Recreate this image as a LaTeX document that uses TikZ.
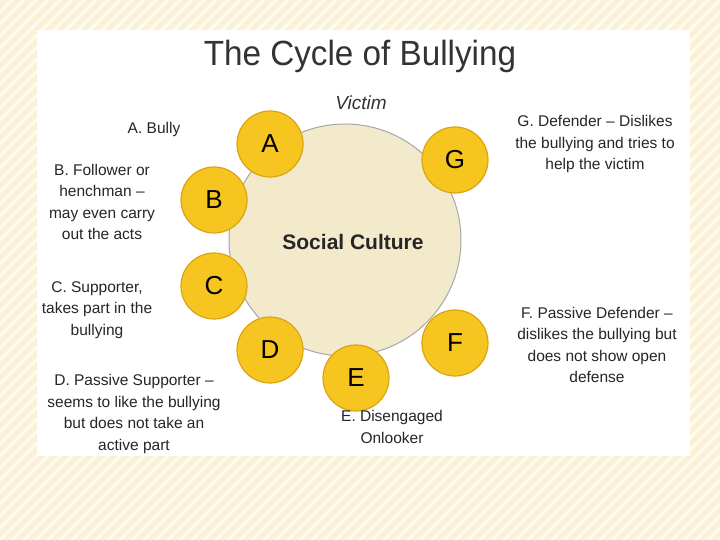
\documentclass[tikz,border=0pt]{standalone}
\usepackage{fontspec}
\setmainfont{Liberation Sans}
\definecolor{bg}{HTML}{FBF1D6}
\definecolor{big}{HTML}{F3EACB}
\definecolor{yel}{HTML}{F7C520}
\definecolor{yeld}{HTML}{D9A514}
\begin{document}
\begin{tikzpicture}[x=1pt,y=-1pt,
  role/.style={circle,draw=yeld,line width=1.2pt,fill=yel,minimum size=66pt,inner sep=0pt,font=\fontsize{26}{26}\selectfont},
  lab/.style={align=center,font=\fontsize{15.5}{21.5}\selectfont,text=black!85}]
\useasboundingbox (0,0) rectangle (720,540);
\fill[bg] (0,0) rectangle (720,540);
\begin{scope}
\clip (0,0) rectangle (720,540);
\foreach \i in {0,12,...,1260}{\draw[white!70!bg,line width=3pt] (\i,0) -- (\i-540,540);}
\end{scope}
\fill[white] (37,30) rectangle (690,456);
\node[font=\fontsize{35}{35}\selectfont,text=black!80,xscale=0.95] (t) at (360,56) {The Cycle of Bullying};
\node[circle,draw=gray!70,line width=1pt,fill=big,minimum size=232pt] (c) at (345,240) {};
\node[font=\bfseries\fontsize{21}{21}\selectfont,text=black!85] at (353,242) {Social Culture};
\node[font=\itshape\fontsize{19}{19}\selectfont,text=black!80] (v) at (361,103) {Victim};
\node[role] (A) at (270,144) {A};
\node[role] (G) at (455,160) {G};
\node[role] (B) at (214,200) {B};
\node[role] (C) at (214,286) {C};
\node[role] (D) at (270,350) {D};
\node[role] (E) at (356,378) {E};
\node[role] (F) at (455,343) {F};
\node[lab] (la) at (154,129) {A. Bully};
\node[lab] (lb) at (102,202) {B. Follower or\\henchman –\\may even carry\\out the acts};
\node[lab] (lc) at (97,310) {C. Supporter,\\takes part in the\\bullying};
\node[lab] (ld) at (134,414) {D. Passive Supporter –\\seems to like the bullying\\but does not take an\\active part};
\node[lab] (le) at (392,427) {E. Disengaged\\Onlooker};
\node[lab] (lf) at (597,345) {F. Passive Defender –\\dislikes the bullying but\\does not show open\\defense};
\node[lab] (lg) at (595,144) {G. Defender – Dislikes\\the bullying and tries to\\help the victim};
\end{tikzpicture}
\end{document}
